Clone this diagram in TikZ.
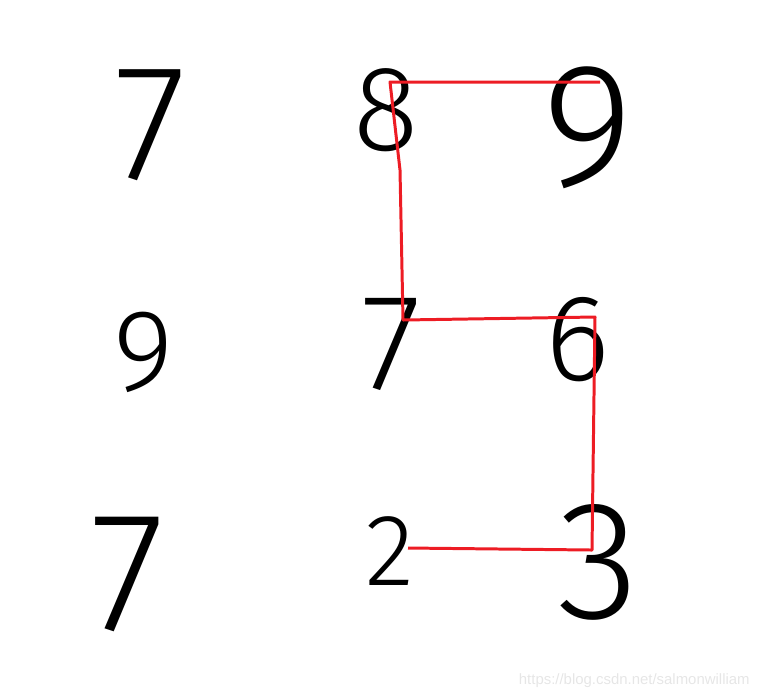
\documentclass[tikz,border=0pt]{standalone}
\usepackage{fontspec}
\newfontfamily\digitfont{Fira Sans}[UprightFont=* Light]
\newfontfamily\markfont{Liberation Sans}
\definecolor{paintred}{HTML}{ED1C24}
\definecolor{markgray}{HTML}{E6E6E6}

\begin{document}
\begin{tikzpicture}
[x=0.02cm,y=-0.02cm,
  digitdecorate/.style={inner sep=0pt,text=black},%
  redline/.style={-,draw=paintred,line width=1.7pt,line join=round}]
\useasboundingbox (0,0) rectangle (759,698);
%% digits of the grid
\foreach \nodename/\x/\y/\fs/\digit in {n1/151/125/94/7, n2/386/110/69/8,
  n3/588/128/100/9, n4/144/352/66/9, n5/391/344/78/7, n6/578/340/70/6,
  n7/128/574/97/7, n8/390/551/58/2, n9/598/562/96/3}
{
  \node (\nodename) at (\x,\y) [digitdecorate] {\digitfont\fontsize{\fs}{\fs}\selectfont\digit};
}
%% corners of the red path
\foreach \nodename/\x/\y in {p9/600/82, p8/390/82, q8/400/170, p7/403/320,
  p6/595/317, p3/592/550, p2/408/548}
{
  \coordinate (\nodename) at (\x,\y);
}
\draw[redline] (p9) -- (p8) -- (q8) -- (p7) -- (p6) -- (p3) -- (p2);
%% watermark
\node (mark) at (750,681) [anchor=east,inner sep=0pt,text=markgray]
  {\markfont\fontsize{8.5}{8.5}\selectfont https://blog.csdn.net/salmonwilliam};
\end{tikzpicture}
\end{document}
